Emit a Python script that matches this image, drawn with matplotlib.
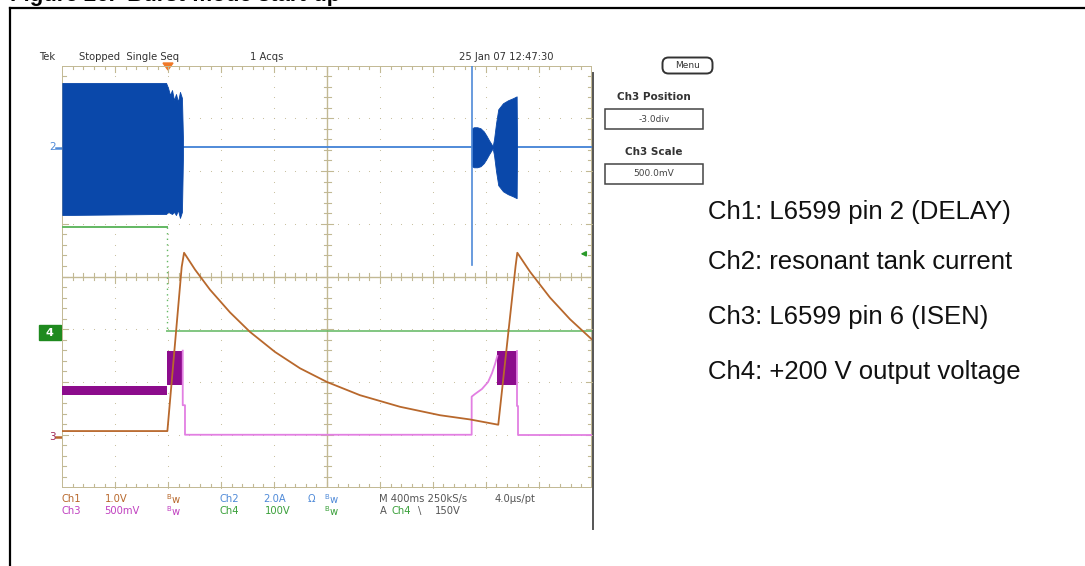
import numpy as np
import matplotlib
matplotlib.use("Agg")
import matplotlib.pyplot as plt
from matplotlib.patches import Rectangle, FancyBboxPatch, Polygon

# Scope settings (from the readout under the screen)
t_per_div = 0.4          # M 400ms
ch1_scale, ch1_pos = 1.0, -3.0     # V/div, div
ch2_scale, ch2_pos = 2.0, 2.45     # A/div
ch3_scale, ch3_pos = 0.5, -3.0     # V/div
ch4_scale, ch4_pos = 100.0, -1.07  # V/div

# Ch1: L6599 DELAY pin (V)
ch1_t = [0.0, 0.794, 0.902, 0.920, 1.003, 1.116, 1.267, 1.418, 1.607, 1.796, 2.000,
         2.249, 2.552, 2.854, 3.081, 3.294, 3.425, 3.438, 3.534, 3.685, 3.836, 4.0]
ch1_v = [0.07, 0.07, 3.18, 3.45, 3.13, 2.75, 2.32, 1.95, 1.57, 1.26, 1.00,
         0.75, 0.53, 0.37, 0.29, 0.19, 3.20, 3.45, 3.09, 2.60, 2.19, 1.81]

# Ch2: resonant tank current (A), burst envelopes
burst1_t = [0.0, 0.738, 0.784, 0.799, 0.814, 0.829, 0.844, 0.859, 0.874, 0.889, 0.904, 0.912]
burst1_hi = [2.44, 2.44, 2.44, 2.25, 1.98, 2.17, 1.79, 2.02, 1.72, 2.10, 1.87, 0.28]
burst1_lo = [-2.57, -2.53, -2.53, -2.45, -2.49, -2.53, -2.45, -2.57, -2.38, -2.68, -2.45, -0.29]
burst2_t = [3.093, 3.095, 3.110, 3.135, 3.160, 3.185, 3.205, 3.225, 3.252, 3.262, 3.277,
            3.294, 3.330, 3.367, 3.405, 3.433, 3.436]
burst2_amp = [0.66, 0.72, 0.76, 0.76, 0.72, 0.60, 0.44, 0.26, 0.04, 0.30, 0.90,
              1.44, 1.67, 1.78, 1.86, 1.93, 0.0]
ch2_spike_t = 3.093
ch2_spike_v = [-4.46, 4.0]

# Ch3: L6599 ISEN pin (V)
ch3_pre_t = [0.0, 0.794]
ch3_pre_lo, ch3_pre_hi = 0.377, 0.462
ch3_blocks = [(0.794, 0.910), (3.287, 3.433)]
ch3_block_lo, ch3_block_hi = 0.472, 0.797
ch3_t = [0.910, 0.910, 0.927, 0.927, 3.093, 3.093, 3.118, 3.171, 3.217, 3.247, 3.270, 3.287]
ch3_v = [0.797, 0.28, 0.28, 0.0, 0.0, 0.361, 0.386, 0.434, 0.500, 0.585, 0.671, 0.747]
ch3_post_t = [3.433, 3.433, 3.443, 3.443, 4.0]
ch3_post_v = [0.797, 0.27, 0.27, 0.0, 0.0]

# Ch4: +200 V output (V)
ch4_t = [0.0, 0.794, 0.794, 4.0]
ch4_v = [201, 201, 3, 3]
trig_level = 150

C1, C2, C2L, C3, C3D, C4 = "#b8682c", "#0a48aa", "#4f8ad8", "#e27fe2", "#8c0c8c", "#62b862"
GRAT = "#c2b994"

fig = plt.figure(figsize=(10.85, 5.66), dpi=100)
ov = fig.add_axes([0, 0, 1, 1])
ov.set_xlim(0, 1085)
ov.set_ylim(566, 0)
ov.axis("off")

L, R, T, B = 62.3, 591.7, 65.5, 487.5
ax = fig.add_axes([L / 1085, 1 - B / 566, (R - L) / 1085, (B - T) / 566])
ax.set_xlim(0, 10 * t_per_div)
ax.set_ylim(-4, 4)
ax.axis("off")

px_x = t_per_div / ((R - L) / 10)   # time per pixel
px_y = 8 / (B - T)                  # div per pixel

# graticule
for d in range(1, 10):
    if d == 5:
        continue
    xs = d * t_per_div
    ys = np.arange(-4, 4.01, 0.2)
    ax.scatter(np.full_like(ys, xs), ys, s=0.6, color=GRAT, zorder=1, linewidths=0)
for d in range(-3, 4):
    if d == 0:
        continue
    xs = np.arange(0, 10.01, 0.2) * t_per_div
    ax.scatter(xs, np.full_like(xs, d), s=0.6, color=GRAT, zorder=1, linewidths=0)
ax.plot([0, 4], [0, 0], color=GRAT, lw=1.0, zorder=1)
ax.plot([2, 2], [-4, 4], color=GRAT, lw=1.0, zorder=1)
for k in range(1, 50):
    x = k * 0.2 * t_per_div
    big = (k % 5 == 0)
    h = (6 if big else 3.5) * px_y
    ax.plot([x, x], [-h, h], color=GRAT, lw=0.8, zorder=1)
    ax.plot([x, x], [4, 4 - h], color=GRAT, lw=0.8, zorder=1)
    ax.plot([x, x], [-4, -4 + h], color=GRAT, lw=0.8, zorder=1)
for k in range(1, 40):
    y = -4 + k * 0.2
    big = (k % 5 == 0)
    w = (6 if big else 3.5) * px_x
    ax.plot([2 - w, 2 + w], [y, y], color=GRAT, lw=0.8, zorder=1)
    ax.plot([0, w], [y, y], color=GRAT, lw=0.8, zorder=1)
    ax.plot([4, 4 - w], [y, y], color=GRAT, lw=0.8, zorder=1)
ax.add_patch(Rectangle((0, -4), 4, 8, fill=False, edgecolor=GRAT, lw=1.4, zorder=1))

def d1(v): return np.asarray(v) / ch1_scale + ch1_pos
def d2(v): return np.asarray(v) / ch2_scale + ch2_pos
def d3(v): return np.asarray(v) / ch3_scale + ch3_pos
def d4(v): return np.asarray(v) / ch4_scale + ch4_pos

# Ch4
ax.plot(ch4_t[:2], d4(ch4_v[:2]), color=C4, lw=1.4, zorder=2)
ax.plot(ch4_t[1:3], d4(ch4_v[1:3]), color=C4, lw=1.0, ls=(0, (1, 3)), zorder=2)
ax.plot(ch4_t[2:], d4(ch4_v[2:]), color=C4, lw=1.4, alpha=0.8, zorder=2)

# Ch2
ax.plot([0.9, 4.0], d2([0, 0]), color=C2L, lw=1.4, zorder=3)
ax.fill_between(burst1_t, d2(burst1_lo), d2(burst1_hi), color=C2, lw=0.6, zorder=3)
b2 = np.asarray(burst2_amp)
ax.fill_between(burst2_t, d2(-b2), d2(b2), color=C2, lw=0.6, zorder=3)
ax.plot([ch2_spike_t, ch2_spike_t], d2(ch2_spike_v), color=C2L, lw=1.2, zorder=3)

# Ch3
ax.fill_between(ch3_pre_t, d3(ch3_pre_lo), d3(ch3_pre_hi), color=C3D, lw=0, zorder=4)
for t0, t1 in ch3_blocks:
    ax.fill_between([t0, t1], d3(ch3_block_lo), d3(ch3_block_hi), color=C3D, lw=0, zorder=4)
ax.plot(ch3_t, d3(ch3_v), color=C3, lw=1.3, zorder=4)
ax.plot(ch3_post_t, d3(ch3_post_v), color=C3, lw=1.3, zorder=4)

# Ch1
ax.plot(ch1_t, d1(ch1_v), color=C1, lw=1.3, zorder=5)

# trigger level arrow
ax.annotate("", xy=(4 - 14 * px_x, d4(trig_level)), xytext=(4 - 3 * px_x, d4(trig_level)),
            arrowprops=dict(arrowstyle="-|>", color="#2a9a2a", lw=1.2, mutation_scale=7),
            zorder=6)

# --- surrounding figure elements (pixel coordinates) ---
ov.plot([10, 10], [7.5, 566], color="black", lw=1.6)
ov.plot([10, 1085], [7.5, 7.5], color="black", lw=1.6)
ov.text(10, 0.5, "Figure 26.  Burst-mode start-up", fontsize=16,
        fontweight="bold", family="Liberation Sans", va="baseline", ha="left",
        clip_on=True)
ov.plot([592.8, 592.8], [73, 529], color="#555555", lw=1.4)

nar = ["Liberation Sans Narrow", "DejaVu Sans"]
small = 7.2
ov.text(39, 57, "Tek", fontsize=small, family=nar, va="center", color="#333333")
ov.text(79, 57, "Stopped  Single Seq", fontsize=small, family=nar, va="center", color="#333333")
ov.text(250, 57, "1 Acqs", fontsize=small, family=nar, va="center", color="#333333")
ov.text(459, 57, "25 Jan 07 12:47:30", fontsize=small, family=nar, va="center", color="#333333")
ov.add_patch(Polygon([[163, 63], [173, 63], [168, 70]], closed=True, color="#f07828", zorder=7))

# channel markers
ov.text(56, 147.5, "2", fontsize=7.5, family=nar, color=C2L, va="center", ha="right")
ov.plot([56, 61], [147.5, 147.5], color=C2L, lw=1.8)
ov.add_patch(Rectangle((39, 325), 21.5, 15, color="#1f8a1f"))
ov.text(49, 332.7, "4", fontsize=8, color="white", ha="center", va="center", fontweight="bold")
ov.text(56, 436.7, "3", fontsize=7.5, family=nar, color="#a02858", va="center", ha="right")
ov.plot([56, 61], [436.7, 436.7], color=C1, lw=1.8)

# bottom readout
bw = r"$^{\mathrm{B}}$w"
row1, row2 = 499, 511
for x, y, s, c in [
        (62, row1, "Ch1", C1), (105, row1, "1.0V", C1), (166, row1, bw, C1),
        (220, row1, "Ch2", C2L), (263, row1, "2.0A", C2L), (308, row1, "\u03a9", C2L),
        (324, row1, bw, C2L), (379, row1, "M 400ms 250kS/s", "#555555"),
        (495, row1, "4.0\u00b5s/pt", "#555555"),
        (62, row2, "Ch3", "#c040c0"), (104, row2, "500mV", "#c040c0"), (166, row2, bw, "#c040c0"),
        (220, row2, "Ch4", "#3aa03a"), (265, row2, "100V", "#3aa03a"), (324, row2, bw, "#3aa03a"),
        (380, row2, "A", "#555555"), (392, row2, "Ch4", "#3aa03a"), (418, row2, "\\", "#555555"),
        (435, row2, "150V", "#555555")]:
    ov.text(x, y, s, fontsize=small, family=nar, color=c, va="center", ha="left")

# side menu
ov.add_patch(FancyBboxPatch((664, 59), 47, 13, boxstyle="round,pad=1.5,rounding_size=6",
                            facecolor="white", edgecolor="#333333", lw=1.4))
ov.text(687.5, 65.5, "Menu", fontsize=6.5, family=nar, ha="center", va="center", color="#333333")
ov.text(654, 97, "Ch3 Position", fontsize=7.5, fontweight="bold", ha="center", va="center",
        color="#333333")
ov.add_patch(Rectangle((605, 109), 98, 19.5, fill=False, edgecolor="#444444", lw=1.1))
ov.text(654, 119, "-3.0div", fontsize=6.5, family=nar, ha="center", va="center", color="#444444")
ov.text(654, 152, "Ch3 Scale", fontsize=7.5, fontweight="bold", ha="center", va="center",
        color="#333333")
ov.add_patch(Rectangle((605, 164), 98, 19.5, fill=False, edgecolor="#444444", lw=1.1))
ov.text(654, 174, "500.0mV", fontsize=6.5, family=nar, ha="center", va="center", color="#444444")

legend_lines = ["Ch1: L6599 pin 2 (DELAY)", "Ch2: resonant tank current",
                "Ch3: L6599 pin 6 (ISEN)", "Ch4: +200 V output voltage"]
for y, s in zip([212, 262, 317, 372], legend_lines):
    ov.text(708, y, s, fontsize=18.5, family="Liberation Sans", ha="left", va="center",
            color="#111111")

fig.savefig("out.png", dpi=100)
